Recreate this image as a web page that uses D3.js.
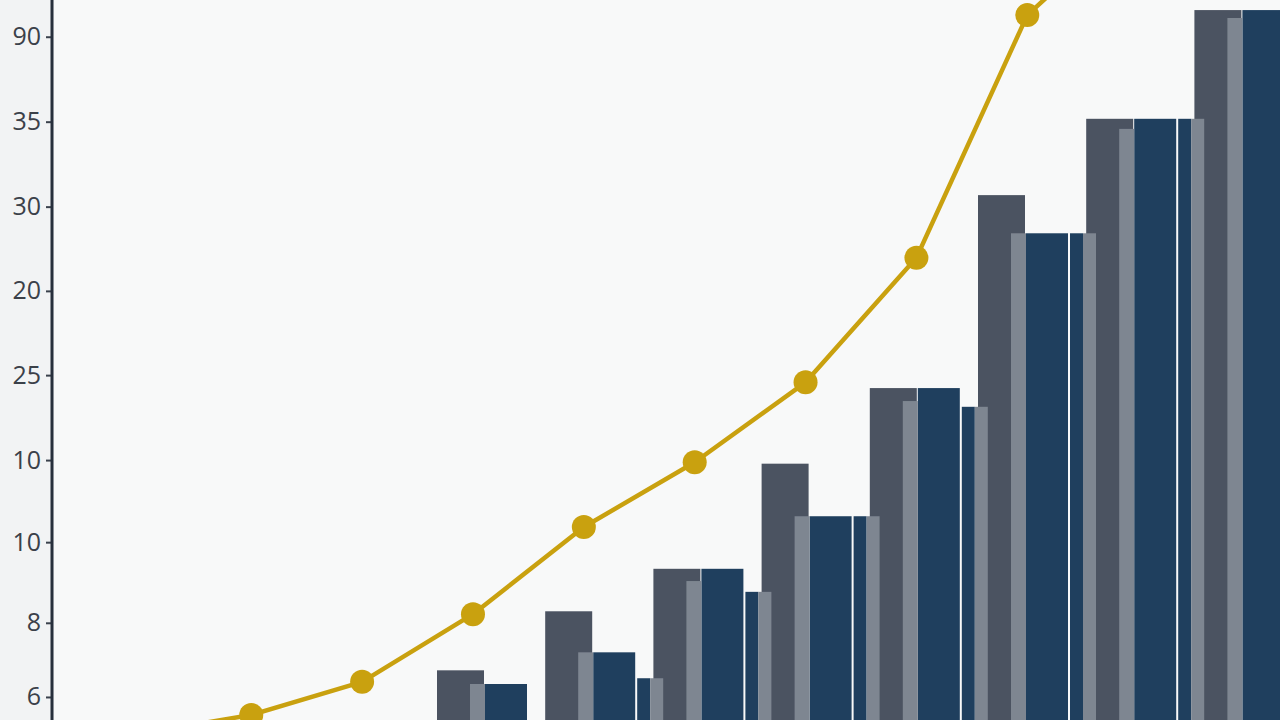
<!DOCTYPE html>
<html>
<head>
<meta charset="utf-8">
<script src="https://cdn.jsdelivr.net/npm/d3@7/dist/d3.min.js"></script>
<style>
  html, body { margin: 0; padding: 0; background: #f5f6f7; }
  svg { display: block; }
</style>
</head>
<body>
<svg id="chart" width="1280" height="720"></svg>
<script>
// ---- data ----
const categories = ["G1","G2","G3","G4","G5","G6","G7","G8","G9","G10","G11"];
// wide dark-grey series
const seriesDark   = [-3, -3, -3, 6.9, 15.1, 21.0, 35.6, 46.1, 72.9, 83.5, 98.6];
// narrow light-grey series (left)
const seriesLight1 = [-3, -3, -3, 5.0, 9.4, 19.3, 28.3, 44.3, 67.6, 82.1, 97.5];
// wide navy series
const seriesNavy1  = [-3, -3, -3, 5.0, 9.4, 21.0, 28.3, 46.1, 67.6, 83.5, 98.6];
// narrow navy series
const seriesNavy2  = [-3, -3, -3, -1, 5.8, 17.8, 28.3, 43.5, 67.6, 83.5, 98.6];
// narrow light-grey series (right)
const seriesLight2 = [-3, -3, -3, -1, 5.8, 17.8, 28.3, 43.5, 67.6, 83.5, 98.6];
// gold line series
const lineValues   = [-1.9, 0.7, 5.3, 14.7, 26.8, 35.8, 46.9, 64.2, 97.9, 112, 130];
// y-axis ticks (positions and the labels printed on them)
const tickValues = [3.2, 13.5, 24.7, 36.1, 47.9, 59.6, 71.3, 83.1, 94.9];
const tickLabels = ["6", "8", "10", "10", "25", "20", "30", "35", "90"];

// ---- layout ----
const W = 1280, H = 720;
const svg = d3.select("#chart");

svg.append("rect").attr("x", 0).attr("y", 0).attr("width", W).attr("height", H).attr("fill", "#f2f3f4");
svg.append("rect").attr("x", 54).attr("y", 0).attr("width", W - 54).attr("height", H).attr("fill", "#f8f9f9");

const y = d3.scaleLinear().domain([-20, 100]).range([H + 144, 0]);
const step = 108.2;
const x0 = 112.4;
const x = d3.scaleBand().domain(categories)
  .range([x0, x0 + step * categories.length])
  .paddingInner(0).paddingOuter(0);
const bw = x.bandwidth();
// the line sits on its own, slightly wider, point scale
const xLine = d3.scalePoint().domain(categories).range([140.4, 140.4 + 110.86 * (categories.length - 1)]);

// sub-bar placement within a group, as fractions of the band
const sub = {
  dark:   [0 / 108.2, 47 / 108.2],
  light1: [33 / 108.2, 48 / 108.2],
  navy1:  [48 / 108.2, 90 / 108.2],
  navy2:  [92 / 108.2, 105 / 108.2],
  light2: [105 / 108.2, 118 / 108.2]
};
const colors = {
  dark: "#4b5361",
  light1: "#7e8691",
  navy1: "#1f3f5e",
  navy2: "#1f3f5e",
  light2: "#7e8691"
};

function drawSeries(name, values) {
  svg.append("g").attr("class", "series-" + name)
    .selectAll("rect")
    .data(categories.map((c, i) => ({ c, v: values[i] })))
    .join("rect")
    .attr("x", d => x(d.c) + sub[name][0] * bw)
    .attr("width", (sub[name][1] - sub[name][0]) * bw)
    .attr("y", d => y(d.v))
    .attr("height", d => Math.max(0, y(-20) - y(d.v)))
    .attr("fill", colors[name]);
}

drawSeries("dark", seriesDark);
drawSeries("navy1", seriesNavy1);
drawSeries("navy2", seriesNavy2);
drawSeries("light2", seriesLight2);
drawSeries("light1", seriesLight1);

// ---- line ----
const pts = categories.map((c, i) => ({ c, v: lineValues[i] }));
const line = d3.line().x(d => xLine(d.c)).y(d => y(d.v));
svg.append("path").datum(pts)
  .attr("d", line)
  .attr("fill", "none")
  .attr("stroke", "#c9a10f")
  .attr("stroke-width", 4.5)
  .attr("stroke-linejoin", "round");
svg.append("g").selectAll("circle")
  .data(pts)
  .join("circle")
  .attr("cx", d => xLine(d.c))
  .attr("cy", d => y(d.v))
  .attr("r", 12)
  .attr("fill", "#c9a10f");

// ---- y axis ----
const axis = d3.axisLeft(y)
  .tickValues(tickValues)
  .tickFormat((d, i) => tickLabels[i])
  .tickSize(6)
  .tickPadding(5);
const gAxis = svg.append("g").attr("transform", "translate(52,0)").call(axis);
gAxis.select(".domain").remove();
gAxis.selectAll(".tick line").attr("stroke", "#3a414c").attr("stroke-width", 2);
gAxis.selectAll(".tick text")
  .attr("fill", "#3b4049")
  .style("font-family", "'Open Sans', 'Liberation Sans', sans-serif")
  .style("font-size", "25px");
svg.append("line")
  .attr("x1", 52).attr("x2", 52).attr("y1", 0).attr("y2", H)
  .attr("stroke", "#27303c").attr("stroke-width", 3);
</script>
</body>
</html>
